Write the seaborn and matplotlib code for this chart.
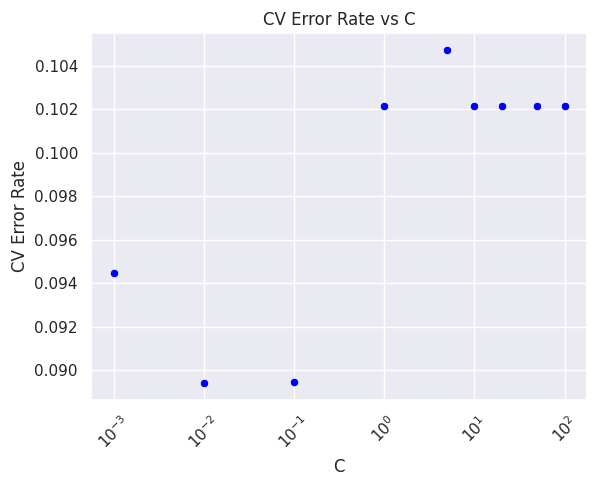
import matplotlib
matplotlib.use("Agg")
import matplotlib.pyplot as plt
import pandas as pd
import seaborn as sns

# Values
c_values = [0.001, 0.01, 0.1, 1, 5, 10, 20, 50, 100]
cv_error = [0.09448, 0.08940, 0.08945, 0.10215, 0.10473,
            0.10215, 0.10215, 0.10215, 0.10215]

sns.set_theme(style="darkgrid")

df = pd.DataFrame({"C": c_values, "CV Error Rate": cv_error})

fig, ax = plt.subplots(figsize=(5.96, 4.87), dpi=100)
sns.scatterplot(x="C", y="CV Error Rate", data=df, ax=ax, color="blue")
ax.set_xscale("log")
ax.set_title("CV Error Rate vs C")
ax.tick_params(axis="x", labelrotation=45)
fig.subplots_adjust(left=0.153, right=0.985, top=0.932, bottom=0.179)
fig.savefig("out.png", dpi=100)
plt.close(fig)
